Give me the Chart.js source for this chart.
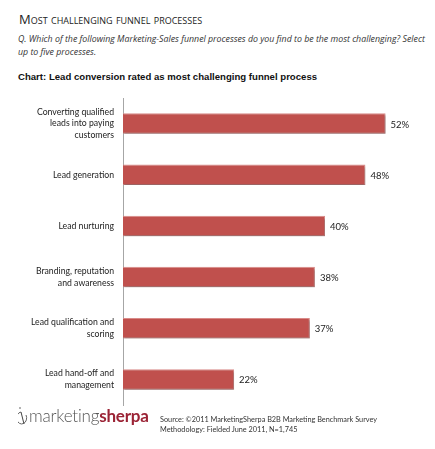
<!DOCTYPE html>
<html>
<head>
<meta charset="utf-8">
<script src="https://cdn.jsdelivr.net/npm/chart.js@4"></script>
<style>
  html, body { margin: 0; padding: 0; background: #fff; }
  body { width: 435px; height: 449px; position: relative; overflow: hidden; font-family: Lato, sans-serif; color: #222; }
  .title { position: absolute; left: 19px; top: 10px; font-family: "Open Sans", sans-serif; font-size: 13px; font-variant: small-caps; color: #222; white-space: nowrap; }
  .question { position: absolute; left: 18px; top: 33px; width: 418px; font-family: "Open Sans", sans-serif; font-style: italic; font-size: 8.8px; line-height: 13px; color: #333; }
  .subtitle { position: absolute; left: 18px; top: 71px; font-family: "Liberation Sans", Arial, sans-serif; font-weight: bold; font-size: 9.6px; color: #111; white-space: nowrap; }
  .chart-box { position: absolute; left: 0; top: 90px; width: 435px; height: 320px; }
  .logo { position: absolute; left: 18px; top: 405px; font-size: 17px; white-space: nowrap; letter-spacing: -0.2px; }
  .logo .m { color: #555; font-weight: 300; }
  .logo .s { color: #9b2335; font-weight: bold; }
  .logo svg { vertical-align: -4px; margin-right: 1px; }
  .source { position: absolute; left: 160px; top: 415px; font-size: 7.3px; line-height: 9.5px; color: #333; white-space: nowrap; }
</style>
</head>
<body>
<div class="title">Most challenging funnel processes</div>
<div class="question">Q. Which of the following Marketing-Sales funnel processes do you find to be the most challenging? Select up to five processes.</div>
<div class="subtitle">Chart: Lead conversion rated as most challenging funnel process</div>
<div class="chart-box"><canvas id="funnel-chart"></canvas></div>
<div class="logo"><svg width="10" height="20" viewBox="0 0 10 20"><circle cx="2" cy="2" r="1" fill="#999"/><path d="M3 6 A5 6 0 1 0 8 9" fill="none" stroke="#666" stroke-width="1"/><path d="M3 6 L6 18" stroke="#444" stroke-width="1"/></svg><span class="m">marketing</span><span class="s">sherpa</span></div>
<div class="source">Source: ©2011 MarketingSherpa B2B Marketing Benchmark Survey<br>Methodology: Fielded June 2011, N=1,745</div>
<script>
// Most challenging funnel processes (share of respondents, %)
const processLabels = [
    ['Converting qualified', 'leads into paying', 'customers'],
    'Lead generation',
    'Lead nurturing',
    ['Branding, reputation', 'and awareness'],
    ['Lead qualification and', 'scoring'],
    ['Lead hand-off and', 'management']
];
const processValues = [52, 48, 40, 38, 37, 22];
const barColor = '#c0504d';

// Value labels to the right of each bar
const valueLabels = {
    id: 'valueLabels',
    afterDatasetsDraw(chart) {
        const ctx = chart.ctx;
        const meta = chart.getDatasetMeta(0);
        ctx.save();
        ctx.font = '9.5px Lato';
        ctx.fillStyle = '#222';
        ctx.textAlign = 'left';
        ctx.textBaseline = 'middle';
        meta.data.forEach((bar, i) => {
            ctx.fillText(processValues[i] + '%', bar.x + 5, bar.y + 1);
        });
        ctx.restore();
    }
};

// Soft drop shadow like the Excel bars
const barShadow = {
    id: 'barShadow',
    beforeDatasetsDraw(chart) {
        const ctx = chart.ctx;
        ctx.save();
        ctx.shadowColor = 'rgba(0, 0, 0, 0.3)';
        ctx.shadowBlur = 2;
        ctx.shadowOffsetX = 1;
        ctx.shadowOffsetY = 2;
    },
    afterDatasetsDraw(chart) {
        chart.ctx.restore();
    }
};

new Chart(document.getElementById('funnel-chart'), {
    type: 'bar',
    data: {
        labels: processLabels,
        datasets: [{
            data: processValues,
            backgroundColor: barColor,
            borderColor: '#d98a88',
            borderWidth: 1,
            borderSkipped: 'left',
            barPercentage: 0.4,
            categoryPercentage: 1
        }]
    },
    options: {
        indexAxis: 'y',
        responsive: true,
        maintainAspectRatio: false,
        animation: false,
        layout: { padding: { top: 8, bottom: 5, right: 9 } },
        plugins: {
            legend: { display: false },
            tooltip: { enabled: false }
        },
        scales: {
            x: {
                min: 0,
                max: 60,
                display: false
            },
            y: {
                afterFit(scale) {
                    scale.width = 123;
                    // tall multi-line labels should not shrink the plot
                    scale.paddingTop = 0;
                    scale.paddingBottom = 0;
                },
                grid: { display: false, drawTicks: false },
                border: { display: true, color: '#a6a6a6', width: 1 },
                ticks: {
                    padding: 9,
                    color: '#222',
                    font: { family: 'Lato', size: 8.7, lineHeight: 1.35 }
                }
            }
        }
    },
    plugins: [barShadow, valueLabels]
});
</script>
</body>
</html>
